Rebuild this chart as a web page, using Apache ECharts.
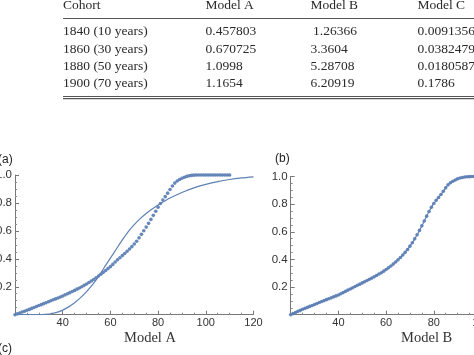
<!DOCTYPE html>
<html><head><meta charset="utf-8">
<script src="https://cdn.jsdelivr.net/npm/echarts@6/dist/echarts.min.js"></script>
<style>html,body{margin:0;padding:0;background:#fff;}#c{width:474px;height:355px;}</style>
</head><body><div id="c"></div>
<script>
// ---- table data ----
const tableHeader = ["Cohort", "Model A", "Model B", "Model C"];
const cohorts = ["1840 (10 years)", "1860 (30 years)", "1880 (50 years)", "1900 (70 years)"];
const modelA = ["0.457803", "0.670725", "1.0998", "1.1654"];
const modelB = ["1.26366", "3.3604", "5.28708", "6.20919"];
const modelC = ["0.0091356", "0.0382479", "0.0180587", "0.1786"];

// ---- chart data ----
const ages = [20,21,22,23,24,25,26,27,28,29,30,31,32,33,34,35,36,37,38,39,40,41,42,43,44,45,46,47,48,49,50,51,52,53,54,55,56,57,58,59,60,61,62,63,64,65,66,67,68,69,70,71,72,73,74,75,76,77,78,79,80,81,82,83,84,85,86,87,88,89,90,91,92,93,94,95,96,97,98,99,100,101,102,103,104,105,106,107,108,109,110];
const observedA = [0.000,0.006,0.012,0.019,0.025,0.032,0.038,0.045,0.052,0.059,0.066,0.072,0.079,0.086,0.093,0.100,0.107,0.113,0.120,0.127,0.134,0.142,0.150,0.158,0.166,0.174,0.183,0.191,0.200,0.210,0.220,0.230,0.241,0.252,0.264,0.277,0.290,0.303,0.316,0.330,0.344,0.360,0.377,0.393,0.408,0.423,0.438,0.454,0.470,0.487,0.506,0.526,0.550,0.575,0.601,0.627,0.654,0.682,0.711,0.740,0.770,0.796,0.821,0.845,0.870,0.896,0.921,0.942,0.957,0.968,0.977,0.984,0.990,0.994,0.997,0.999,1.0,1.0,1.0,1.0,1.0,1.0,1.0,1.0,1.0,1.0,1.0,1.0,1.0,1.0,1.0];
const fitAges = [20,25,30,32.5,35,37.5,40,42.5,45,47.5,50,52.5,55,57.5,60,62.5,65,67.5,70,72.5,75,77.5,80,85,90,95,100,105,110,115,120];
const fittedA = [0,0,0.001,0.003,0.007,0.017,0.033,0.056,0.085,0.122,0.165,0.215,0.272,0.34,0.405,0.47,0.535,0.595,0.645,0.688,0.725,0.757,0.785,0.835,0.875,0.908,0.933,0.953,0.968,0.979,0.987];
const observedB = [0.000,0.008,0.016,0.024,0.031,0.039,0.046,0.053,0.060,0.067,0.074,0.081,0.088,0.095,0.102,0.109,0.115,0.122,0.129,0.136,0.143,0.152,0.160,0.169,0.178,0.186,0.195,0.204,0.213,0.221,0.230,0.238,0.247,0.256,0.265,0.274,0.284,0.294,0.304,0.315,0.327,0.339,0.352,0.366,0.381,0.397,0.414,0.432,0.451,0.472,0.496,0.521,0.549,0.578,0.610,0.643,0.678,0.713,0.747,0.778,0.805,0.828,0.848,0.870,0.893,0.918,0.940,0.955,0.966,0.975,0.983,0.989,0.993,0.996,0.998,0.999,1.0,1.0,1.0,1.0,1.0,1.0,1.0,1.0,1.0,1.0,1.0,1.0,1.0,1.0,1.0];
const xTicks = [40, 60, 80, 100, 120];
const yTicks = [0.2, 0.4, 0.6, 0.8, 1.0];
const panelLabels = ["(a)", "(b)", "(c)"];
const axisTitles = ["Model A", "Model B"];

const BLUE = '#5E81B5';
const serif = '"Liberation Serif", "DejaVu Serif", serif';
const sans = '"Liberation Sans", Arial, sans-serif';

function pairs(xs, ys) { return xs.map((x, i) => [x, ys[i]]); }

function xAxisCfg(idx) {
  return {
    type: 'value', gridIndex: idx, min: 20, max: 120, interval: 20,
    axisLine: { onZero: false, lineStyle: { color: '#777', width: 1 } },
    axisTick: { show: true, inside: true, length: 4, lineStyle: { color: '#777' } },
    minorTick: { show: true, splitNumber: 4, length: 2, lineStyle: { color: '#888' } },
    splitLine: { show: false },
    axisLabel: { margin: 3, color: '#333', fontSize: 11, fontFamily: sans,
      formatter: v => xTicks.indexOf(v) >= 0 ? String(v) : '' }
  };
}
function yAxisCfg(idx) {
  return {
    type: 'value', gridIndex: idx, min: 0, max: 1, interval: 0.2,
    axisLine: { show: true, onZero: false, lineStyle: { color: '#777', width: 1 } },
    axisTick: { show: true, inside: true, length: 4, lineStyle: { color: '#777' } },
    minorTick: { show: true, splitNumber: 4, length: 2, lineStyle: { color: '#888' } },
    splitLine: { show: false },
    axisLabel: { margin: 3, color: '#333', fontSize: 11.5, fontFamily: sans,
      formatter: v => { const t = yTicks.find(y => Math.abs(y - v) < 1e-6); return t !== undefined ? t.toFixed(1) : ''; } }
  };
}

const graphics = [];
const colX = [63, 205.5, 310.5, 417.5];
const rowY = [31.7, 49.3, 66.7, 83.3];
tableHeader.forEach((h, i) => graphics.push({ type: 'text', x: colX[i], y: 5.5, style: { text: h, fill: '#2a2a2a', font: '13.5px ' + serif, verticalAlign: 'middle' } }));
const cols = [cohorts, modelA, modelB, modelC];
cols.forEach((col, ci) => col.forEach((s, ri) => {
  const dx = (ci === 2 && ri === 0) ? 2.5 : 0;
  graphics.push({ type: 'text', x: colX[ci] + dx, y: rowY[ri], style: { text: s, fill: '#2a2a2a', font: '13.5px ' + serif, verticalAlign: 'middle' } });
}));
graphics.push({ type: 'line', shape: { x1: 63, y1: 18.5, x2: 474, y2: 18.5 }, style: { stroke: '#555', lineWidth: 1 } });
graphics.push({ type: 'line', shape: { x1: 63, y1: 96.5, x2: 474, y2: 96.5 }, style: { stroke: '#555', lineWidth: 1.2 } });
graphics.push({ type: 'line', shape: { x1: 63, y1: 98.7, x2: 474, y2: 98.7 }, style: { stroke: '#555', lineWidth: 1.2 } });
graphics.push({ type: 'text', x: -2, y: 160, style: { text: panelLabels[0], fill: '#222', font: '12px ' + sans, verticalAlign: 'middle' } });
graphics.push({ type: 'text', x: 275, y: 158.3, style: { text: panelLabels[1], fill: '#222', font: '12px ' + sans, verticalAlign: 'middle' } });
graphics.push({ type: 'text', x: -2, y: 349, style: { text: panelLabels[2], fill: '#222', font: '12px ' + sans, verticalAlign: 'middle' } });
graphics.push({ type: 'text', x: 150, y: 338.5, style: { text: axisTitles[0], fill: '#333', font: '14.5px ' + serif, align: 'center', verticalAlign: 'middle' } });
graphics.push({ type: 'text', x: 426.7, y: 338.5, style: { text: axisTitles[1], fill: '#333', font: '14.5px ' + serif, align: 'center', verticalAlign: 'middle' } });

const chart = echarts.init(document.getElementById('c'), null, { renderer: 'canvas' });
chart.setOption({
  animation: false,
  backgroundColor: '#fff',
  grid: [
    { left: 15, top: 175, width: 238.5, height: 139.7, outerBoundsMode: 'none', containLabel: false },
    { left: 290.7, top: 176.5, width: 238.5, height: 138.2, outerBoundsMode: 'none', containLabel: false }
  ],
  xAxis: [xAxisCfg(0), xAxisCfg(1)],
  yAxis: [yAxisCfg(0), yAxisCfg(1)],
  series: [
    { type: 'line', xAxisIndex: 0, yAxisIndex: 0, data: pairs(fitAges, fittedA), smooth: 0.25, showSymbol: false, lineStyle: { color: BLUE, width: 1.2 }, z: 2 },
    { type: 'scatter', xAxisIndex: 0, yAxisIndex: 0, data: pairs(ages, observedA), symbolSize: 3.6, itemStyle: { color: BLUE, opacity: 0.95 }, z: 3 },
    { type: 'line', xAxisIndex: 1, yAxisIndex: 1, data: pairs(ages, observedB), smooth: 0.3, showSymbol: false, lineStyle: { color: BLUE, width: 1.2 }, z: 2 },
    { type: 'scatter', xAxisIndex: 1, yAxisIndex: 1, data: pairs(ages, observedB), symbolSize: 3.6, itemStyle: { color: BLUE, opacity: 0.95 }, z: 3 }
  ],
  graphic: graphics
});
</script></body></html>
